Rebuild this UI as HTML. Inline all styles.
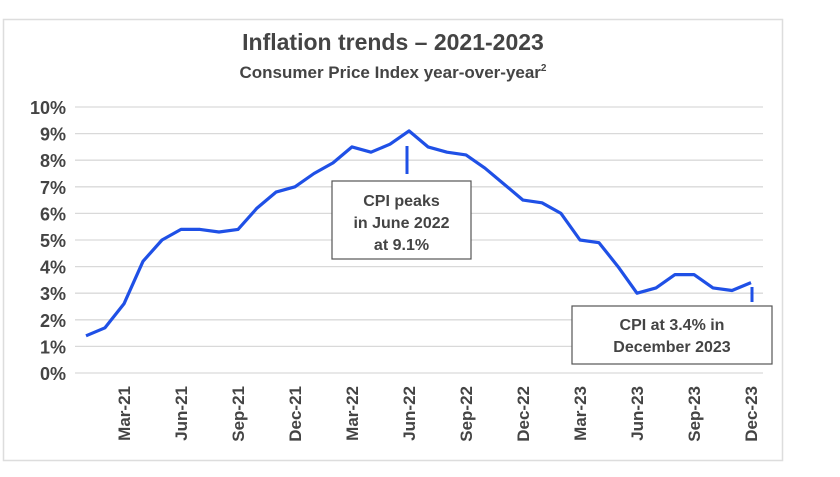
<!DOCTYPE html>
<html><head><meta charset="utf-8"><style>
body{margin:0;background:#fff;width:840px;height:472px;overflow:hidden;font-family:"Liberation Sans",sans-serif}
</style></head><body>
<svg width="840" height="472" xmlns="http://www.w3.org/2000/svg" font-family="Liberation Sans, sans-serif">
<rect x="3.5" y="19.5" width="779" height="441" fill="#fff" stroke="#ddd" stroke-width="1.5"/>
<text x="393" y="50" text-anchor="middle" font-size="23" font-weight="bold" fill="#444">Inflation trends – 2021-2023</text>
<text x="393" y="78" text-anchor="middle" font-size="17" font-weight="bold" fill="#444">Consumer Price Index year-over-year<tspan font-size="10" dy="-7">2</tspan></text>
<g stroke="#d9d9d9" stroke-width="1.3">
<line x1="75" x2="763" y1="107" y2="107"/><line x1="75" x2="763" y1="133.6" y2="133.6"/><line x1="75" x2="763" y1="160.2" y2="160.2"/><line x1="75" x2="763" y1="186.8" y2="186.8"/><line x1="75" x2="763" y1="213.4" y2="213.4"/><line x1="75" x2="763" y1="240" y2="240"/><line x1="75" x2="763" y1="266.6" y2="266.6"/><line x1="75" x2="763" y1="293.2" y2="293.2"/><line x1="75" x2="763" y1="319.8" y2="319.8"/><line x1="75" x2="763" y1="346.4" y2="346.4"/><line x1="75" x2="763" y1="373" y2="373"/>
</g>
<g font-size="18" font-weight="bold" fill="#444" text-anchor="end">
<text x="66" y="114">10%</text><text x="66" y="140.6">9%</text><text x="66" y="167.2">8%</text><text x="66" y="193.8">7%</text><text x="66" y="220.4">6%</text><text x="66" y="247">5%</text><text x="66" y="273.6">4%</text><text x="66" y="300.2">3%</text><text x="66" y="326.8">2%</text><text x="66" y="353.4">1%</text><text x="66" y="380">0%</text>
</g>
<g font-size="17" font-weight="bold" fill="#444" text-anchor="end">
<text transform="translate(130,386) rotate(-90)">Mar-21</text>
<text transform="translate(187,386) rotate(-90)">Jun-21</text>
<text transform="translate(244,386) rotate(-90)">Sep-21</text>
<text transform="translate(301,386) rotate(-90)">Dec-21</text>
<text transform="translate(358,386) rotate(-90)">Mar-22</text>
<text transform="translate(415,386) rotate(-90)">Jun-22</text>
<text transform="translate(472,386) rotate(-90)">Sep-22</text>
<text transform="translate(529,386) rotate(-90)">Dec-22</text>
<text transform="translate(586,386) rotate(-90)">Mar-23</text>
<text transform="translate(643,386) rotate(-90)">Jun-23</text>
<text transform="translate(700,386) rotate(-90)">Sep-23</text>
<text transform="translate(757,386) rotate(-90)">Dec-23</text>
</g>
<polyline fill="none" stroke="#1f50e6" stroke-width="3.2" stroke-linejoin="round" points="86,335.8 105,327.8 124,303.8 143,261.3 162,240 181,229.4 200,229.4 219,232 238,229.4 257,208.1 276,192.1 295,186.8 314,173.5 333,162.9 352,146.9 371,152.2 390,144.2 409,130.9 428,146.9 447,152.2 466,154.9 485,168.2 504,184.1 523,200.1 542,202.8 561,213.4 580,240 599,242.7 618,266.6 637,293.2 656,287.9 675,274.6 694,274.6 713,287.9 732,290.5 751,282.6"/>
<line x1="407" y1="146" x2="407" y2="174" stroke="#1f50e6" stroke-width="3"/>
<line x1="752" y1="287" x2="752" y2="302" stroke="#1f50e6" stroke-width="3"/>
<rect x="332" y="181" width="139" height="78" fill="#fff" stroke="#555" stroke-width="1.2"/>
<g font-size="16" font-weight="bold" fill="#444" text-anchor="middle">
<text x="401.5" y="206">CPI peaks</text><text x="401.5" y="228">in June 2022</text><text x="401.5" y="250">at 9.1%</text>
</g>
<rect x="572" y="306" width="200" height="58" fill="#fff" stroke="#555" stroke-width="1.2"/>
<g font-size="16" font-weight="bold" fill="#444" text-anchor="middle">
<text x="672" y="330">CPI at 3.4% in</text><text x="672" y="352">December 2023</text>
</g>
</svg>
</body></html>
